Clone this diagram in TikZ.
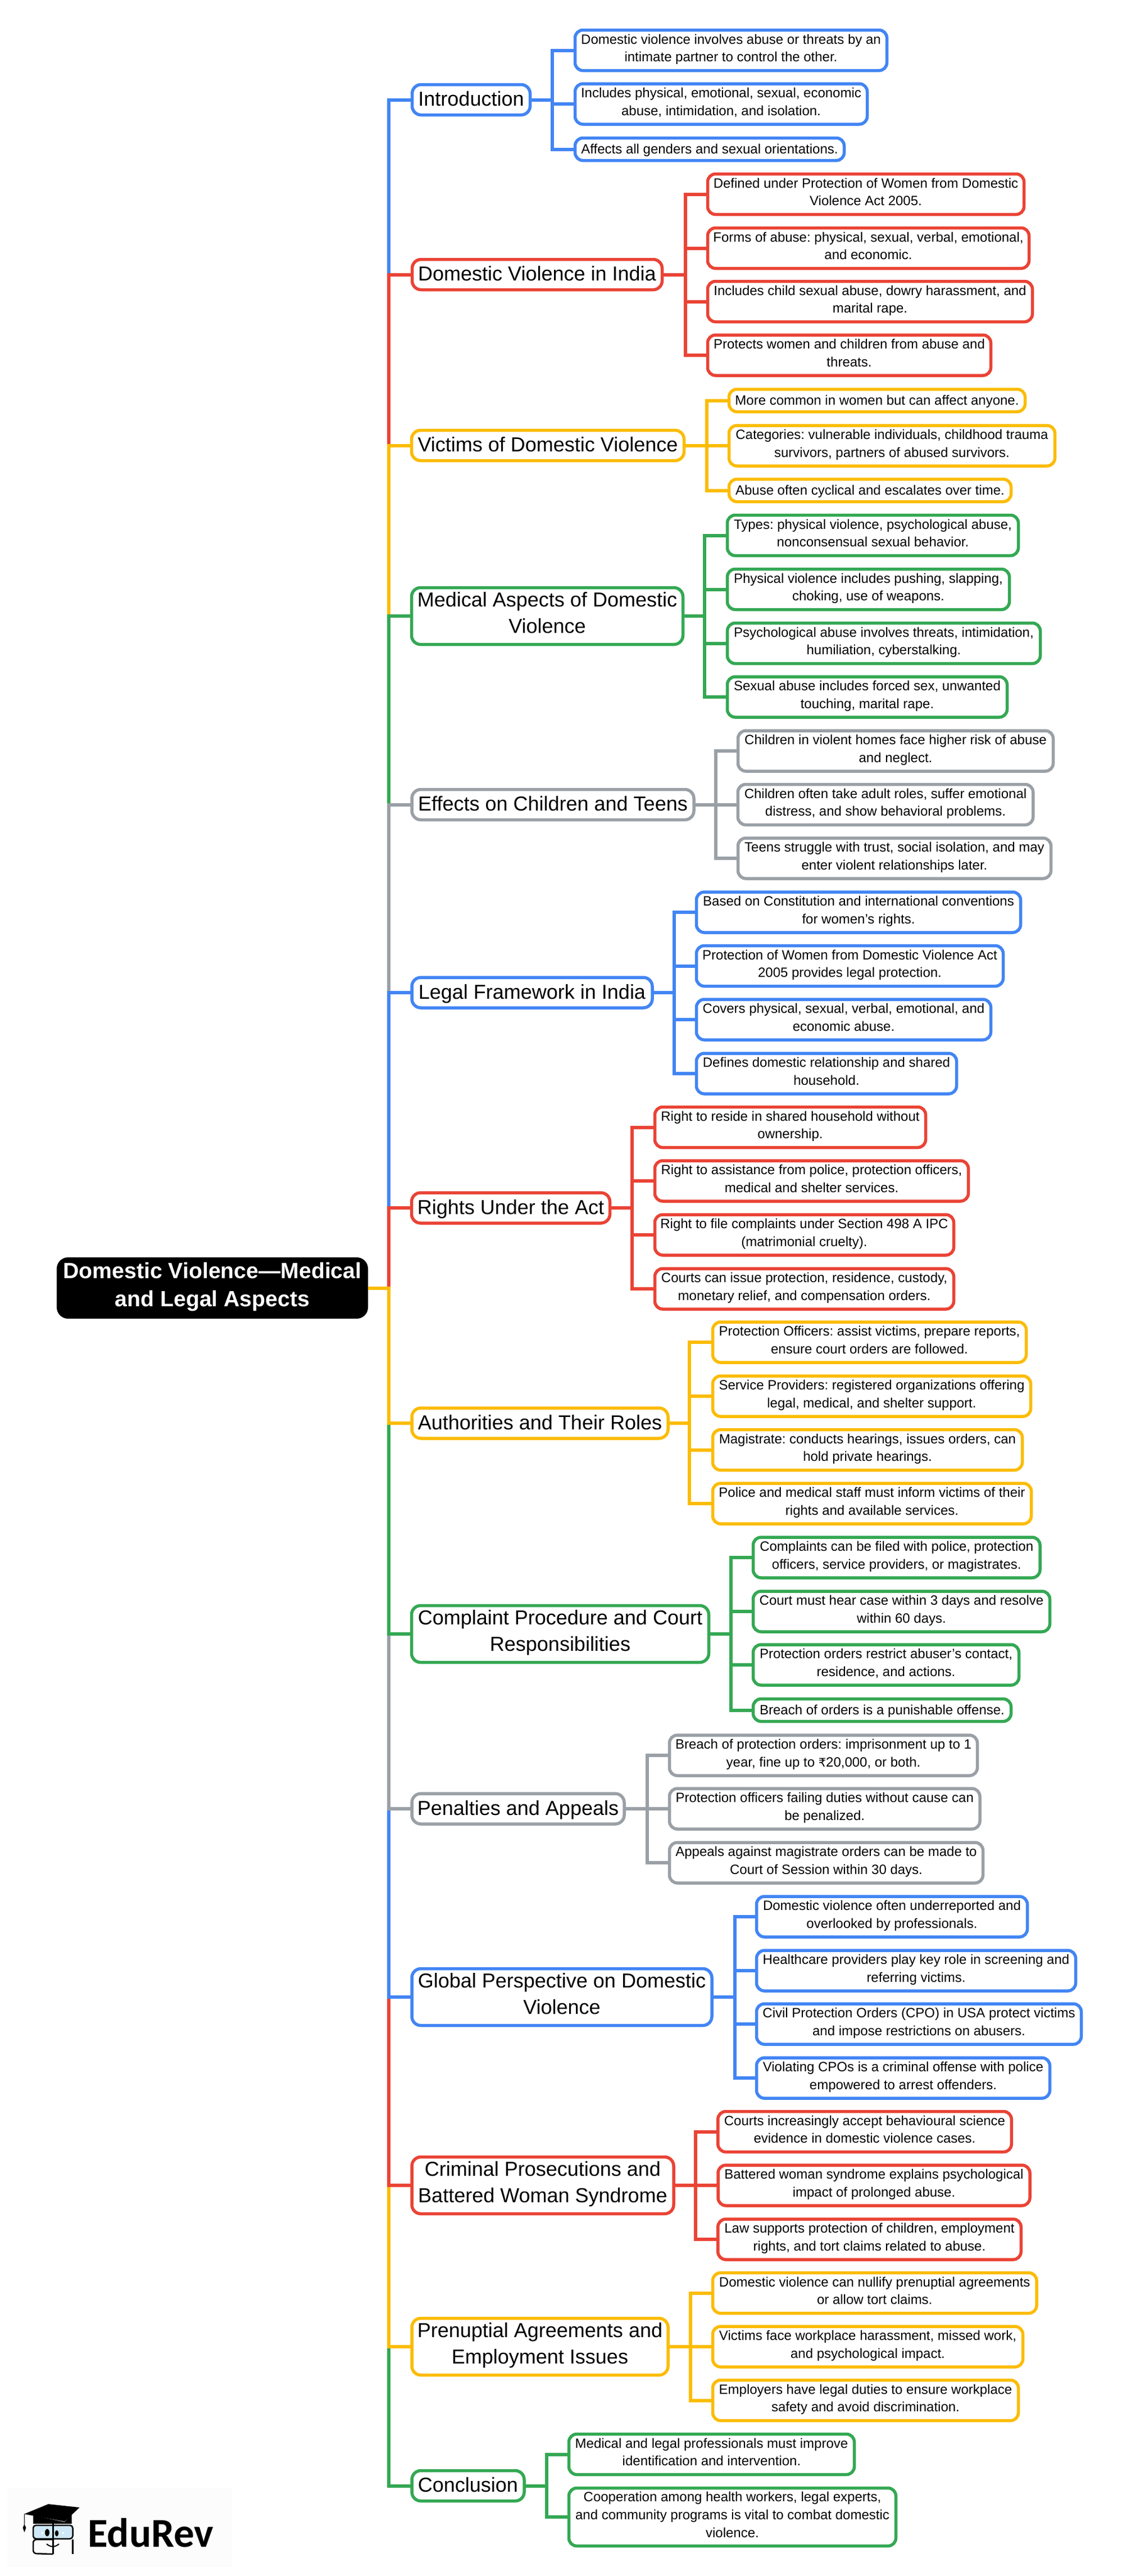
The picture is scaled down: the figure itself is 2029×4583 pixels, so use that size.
\documentclass[tikz,border=0pt]{standalone}
\usepackage{fontspec}
\setmainfont{Liberation Sans}
\newfontfamily\logofont{Carlito}
\newfontfamily\rupeefont{DejaVu Sans}
\frenchspacing
\newcommand\tstrut{\rule[-.26\baselineskip]{0pt}{\baselineskip}}
\definecolor{cblue}{HTML}{4285F4}
\definecolor{cred}{HTML}{EA4335}
\definecolor{cyellow}{HTML}{FBBC04}
\definecolor{cgreen}{HTML}{34A853}
\definecolor{cgray}{HTML}{9AA0A6}
\definecolor{logobg}{HTML}{FCFCFC}
\definecolor{logoglass}{HTML}{CFE8F7}
\tikzset{
  rootbox/.style={fill=black,text=white,rounded corners=20,inner sep=0,outer sep=0,align=center,
    font=\fontsize{39.2}{50}\selectfont\bfseries,minimum width=554,minimum height=109,
    execute at begin node=\tstrut,execute at end node=\tstrut},
  topicbox/.style={draw=#1,fill=white,line width=5.5,rounded corners=16,inner sep=0,outer sep=0,align=center,
    font=\fontsize{36}{47}\selectfont,
    execute at begin node=\tstrut,execute at end node=\tstrut},
  leafbox/.style={draw=#1,fill=white,line width=5.5,rounded corners=14,inner sep=0,outer sep=0,align=center,
    font=\fontsize{24}{31.7}\selectfont,
    execute at begin node=\tstrut,execute at end node=\tstrut},
  link/.style={draw=#1,line width=6,line join=miter},
}
\begin{document}
\begin{tikzpicture}[x=1pt,y=-1pt]
\useasboundingbox (0,0) rectangle (2029,4583);
% root
\node[rootbox] (root) at (378,2291.5) {Domestic Violence---Medical\\and Legal Aspects};
\coordinate (tr) at (692,2291.5);
% topics
\node[topicbox=cblue,minimum width=210,minimum height=54] (t1) at (838.5,177.5) {Introduction};
\node[topicbox=cred,minimum width=445,minimum height=54] (t2) at (956,488.5) {Domestic Violence in India};
\node[topicbox=cyellow,minimum width=485,minimum height=54] (t3) at (975,792.5) {Victims of Domestic Violence};
\node[topicbox=cgreen,minimum width=483,minimum height=101] (t4) at (974,1096) {Medical Aspects of Domestic\\Violence};
\node[topicbox=cgray,minimum width=502,minimum height=54] (t5) at (984,1431.5) {Effects on Children and Teens};
\node[topicbox=cblue,minimum width=428,minimum height=54] (t6) at (947,1766) {Legal Framework in India};
\node[topicbox=cred,minimum width=353,minimum height=54] (t7) at (909,2149) {Rights Under the Act};
\node[topicbox=cyellow,minimum width=456,minimum height=54] (t8) at (961,2532) {Authorities and Their Roles};
\node[topicbox=cgreen,minimum width=529,minimum height=101] (t9) at (997,2907) {Complaint Procedure and Court\\Responsibilities};
\node[topicbox=cgray,minimum width=378,minimum height=54] (t10) at (922,3218) {Penalties and Appeals};
\node[topicbox=cblue,minimum width=534,minimum height=101] (t11) at (1000,3553) {Global Perspective on Domestic\\Violence};
\node[topicbox=cred,minimum width=466,minimum height=101] (t12) at (966,3888) {Criminal Prosecutions and\\Battered Woman Syndrome};
\node[topicbox=cyellow,minimum width=456,minimum height=101] (t13) at (961,4175) {Prenuptial Agreements and\\Employment Issues};
\node[topicbox=cgreen,minimum width=200,minimum height=54] (t14) at (833,4422.5) {Conclusion};
% leaves
\node[leafbox=cblue,minimum width=555,minimum height=72] (l1a) at (1301,89.5) {Domestic violence involves abuse or threats by an\\intimate partner to control the other.};
\node[leafbox=cblue,minimum width=520,minimum height=72] (l1b) at (1283.5,185) {Includes physical, emotional, sexual, economic\\abuse, intimidation, and isolation.};
\node[leafbox=cblue,minimum width=479,minimum height=40] (l1c) at (1263,265.5) {Affects all genders and sexual orientations.};
\node[leafbox=cred,minimum width=563,minimum height=72] (l2a) at (1541,345.5) {Defined under Protection of Women from Domestic\\Violence Act 2005.};
\node[leafbox=cred,minimum width=572,minimum height=72] (l2b) at (1545.5,441.5) {Forms of abuse: physical, sexual, verbal, emotional,\\and economic.};
\node[leafbox=cred,minimum width=578,minimum height=72] (l2c) at (1548.5,536.5) {Includes child sexual abuse, dowry harassment, and\\marital rape.};
\node[leafbox=cred,minimum width=504,minimum height=72] (l2d) at (1511.5,632) {Protects women and children from abuse and\\threats.};
\node[leafbox=cyellow,minimum width=527,minimum height=40] (l3a) at (1561,712.5) {More common in women but can affect anyone.};
\node[leafbox=cyellow,minimum width=580,minimum height=72] (l3b) at (1587.5,793) {Categories: vulnerable individuals, childhood trauma\\survivors, partners of abused survivors.};
\node[leafbox=cyellow,minimum width=502,minimum height=40] (l3c) at (1548.5,872.5) {Abuse often cyclical and escalates over time.};
\node[leafbox=cgreen,minimum width=518,minimum height=72] (l4a) at (1553.5,952.5) {Types: physical violence, psychological abuse,\\nonconsensual sexual behavior.};
\node[leafbox=cgreen,minimum width=502,minimum height=72] (l4b) at (1545.5,1048.5) {Physical violence includes pushing, slapping,\\choking, use of weapons.};
\node[leafbox=cgreen,minimum width=557,minimum height=72] (l4c) at (1573,1144.5) {Psychological abuse involves threats, intimidation,\\humiliation, cyberstalking.};
\node[leafbox=cgreen,minimum width=498,minimum height=72] (l4d) at (1543.5,1240) {Sexual abuse includes forced sex, unwanted\\touching, marital rape.};
\node[leafbox=cgray,minimum width=561,minimum height=72] (l5a) at (1594,1336) {Children in violent homes face higher risk of abuse\\and neglect.};
\node[leafbox=cgray,minimum width=525.5,minimum height=72] (l5b) at (1576,1431.5) {Children often take adult roles, suffer emotional\\distress, and show behavioral problems.};
\node[leafbox=cgray,minimum width=557,minimum height=72] (l5c) at (1592,1527) {Teens struggle with trust, social isolation, and may\\enter violent relationships later.};
\node[leafbox=cblue,minimum width=577,minimum height=72] (l6a) at (1528,1623) {Based on Constitution and international conventions\\for women's rights.};
\node[leafbox=cblue,minimum width=546,minimum height=72] (l6b) at (1512.5,1718.5) {Protection of Women from Domestic Violence Act\\2005 provides legal protection.};
\node[leafbox=cblue,minimum width=524,minimum height=72] (l6c) at (1501.5,1814) {Covers physical, sexual, verbal, emotional, and\\economic abuse.};
\node[leafbox=cblue,minimum width=463,minimum height=72] (l6d) at (1471,1910) {Defines domestic relationship and shared\\household.};
\node[leafbox=cred,minimum width=482,minimum height=72] (l7a) at (1406.5,2005.5) {Right to reside in shared household without\\ownership.};
\node[leafbox=cred,minimum width=558,minimum height=72] (l7b) at (1444.5,2101) {Right to assistance from police, protection officers,\\medical and shelter services.};
\node[leafbox=cred,minimum width=532,minimum height=72] (l7c) at (1431.5,2197) {Right to file complaints under Section 498 A IPC\\(matrimonial cruelty).};
\node[leafbox=cred,minimum width=532,minimum height=72] (l7d) at (1431.5,2293) {Courts can issue protection, residence, custody,\\monetary relief, and compensation orders.};
\node[leafbox=cyellow,minimum width=558,minimum height=72] (l8a) at (1547.5,2388) {Protection Officers: assist victims, prepare reports,\\ensure court orders are followed.};
\node[leafbox=cyellow,minimum width=566,minimum height=72] (l8b) at (1551.5,2484) {Service Providers: registered organizations offering\\legal, medical, and shelter support.};
\node[leafbox=cyellow,minimum width=551,minimum height=72] (l8c) at (1544,2579.5) {Magistrate: conducts hearings, issues orders, can\\hold private hearings.};
\node[leafbox=cyellow,minimum width=567,minimum height=72] (l8d) at (1552,2675) {Police and medical staff must inform victims of their\\rights and available services.};
\node[leafbox=cgreen,minimum width=510.5,minimum height=72] (l9a) at (1595.75,2771) {Complaints can be filed with police, protection\\officers, service providers, or magistrates.};
\node[leafbox=cgreen,minimum width=528,minimum height=72] (l9b) at (1604.5,2867) {Court must hear case within 3 days and resolve\\within 60 days.};
\node[leafbox=cgreen,minimum width=473,minimum height=72] (l9c) at (1577,2962) {Protection orders restrict abuser's contact,\\residence, and actions.};
\node[leafbox=cgreen,minimum width=459,minimum height=40] (l9d) at (1570,3042.5) {Breach of orders is a punishable offense.};
\node[leafbox=cgray,minimum width=548,minimum height=72] (l10a) at (1465.5,3123) {Breach of protection orders: imprisonment up to 1\\year, fine up to {\rupeefont\fontsize{21}{31.7}\selectfont ₹}20,000, or both.};
\node[leafbox=cgray,minimum width=552.5,minimum height=72] (l10b) at (1467.75,3218) {Protection officers failing duties without cause can\\be penalized.};
\node[leafbox=cgray,minimum width=558,minimum height=72] (l10c) at (1470.5,3314) {Appeals against magistrate orders can be made to\\Court of Session within 30 days.};
\node[leafbox=cblue,minimum width=482,minimum height=72] (l11a) at (1587.5,3410) {Domestic violence often underreported and\\overlooked by professionals.};
\node[leafbox=cblue,minimum width=568,minimum height=72] (l11b) at (1630.5,3506) {Healthcare providers play key role in screening and\\referring victims.};
\node[leafbox=cblue,minimum width=578,minimum height=72] (l11c) at (1635.5,3601) {Civil Protection Orders (CPO) in USA protect victims\\and impose restrictions on abusers.};
\node[leafbox=cblue,minimum width=522,minimum height=72] (l11d) at (1607.5,3697) {Violating CPOs is a criminal offense with police\\empowered to arrest offenders.};
\node[leafbox=cred,minimum width=522.5,minimum height=72] (l12a) at (1539,3792.5) {Courts increasingly accept behavioural science\\evidence in domestic violence cases.};
\node[leafbox=cred,minimum width=555,minimum height=72] (l12b) at (1555.5,3888) {Battered woman syndrome explains psychological\\impact of prolonged abuse.};
\node[leafbox=cred,minimum width=539.5,minimum height=72] (l12c) at (1547.5,3984) {Law supports protection of children, employment\\rights, and tort claims related to abuse.};
\node[leafbox=cyellow,minimum width=576.5,minimum height=72] (l13a) at (1556.75,4079.5) {Domestic violence can nullify prenuptial agreements\\or allow tort claims.};
\node[leafbox=cyellow,minimum width=552,minimum height=72] (l13b) at (1544.5,4175) {Victims face workplace harassment, missed work,\\and psychological impact.};
\node[leafbox=cyellow,minimum width=544,minimum height=72] (l13c) at (1540.5,4270.5) {Employers have legal duties to ensure workplace\\safety and avoid discrimination.};
\node[leafbox=cgreen,minimum width=508,minimum height=72] (l14a) at (1266.5,4366.5) {Medical and legal professionals must improve\\identification and intervention.};
\node[leafbox=cgreen,minimum width=582,minimum height=103] (l14b) at (1303.5,4478) {Cooperation among health workers, legal experts,\\and community programs is vital to combat domestic\\violence.};
% trunk links: outer ones first, so each nearer one lies on top
\foreach \t/\c in {t1/cblue,t2/cred,t3/cyellow,t4/cgreen,t5/cgray,t6/cblue,t7/cred,
                   t14/cgreen,t13/cyellow,t12/cred,t11/cblue,t10/cgray,t9/cgreen,t8/cyellow}
  \draw[link=\c] (root.east) -- (tr) |- (\t.west);
% branch junctions
\coordinate (j1) at (983,177.5);
\coordinate (j2) at (1220,488.5);
\coordinate (j3) at (1258,792.5);
\coordinate (j4) at (1254,1096);
\coordinate (j5) at (1274,1431.5);
\coordinate (j6) at (1200,1766);
\coordinate (j7) at (1124.5,2149);
\coordinate (j8) at (1227,2532);
\coordinate (j9) at (1301,2907);
\coordinate (j10) at (1152,3218);
\coordinate (j11) at (1307.5,3553);
\coordinate (j12) at (1238,3888);
\coordinate (j13) at (1229,4175);
\coordinate (j14) at (973,4422.5);
% branch links
\foreach \n/\c/\ls in {1/cblue/{a,b,c},2/cred/{a,b,c,d},3/cyellow/{a,b,c},4/cgreen/{a,b,c,d},5/cgray/{a,b,c},
    6/cblue/{a,b,c,d},7/cred/{a,b,c,d},8/cyellow/{a,b,c,d},9/cgreen/{a,b,c,d},10/cgray/{a,b,c},
    11/cblue/{a,b,c,d},12/cred/{a,b,c},13/cyellow/{a,b,c},14/cgreen/{a,b}}
  \foreach \l in \ls
    \draw[link=\c] (t\n.east) -- (j\n) |- (l\n\l.west);
% logo
\fill[logobg] (13,4427) rectangle (413,4567);
\fill[black] (86,4455) -- (141.6,4461) -- (115,4486) -- (43,4472.7) -- cycle;
\fill[black] (59,4475) -- (59,4490) -- (127.5,4490) -- (127.5,4473) -- (115,4487) -- cycle;
\draw[black,line width=1.5] (43.4,4472.7) -- (43.4,4493);
\fill[black] (43.4,4491) -- (46.5,4497) -- (43.4,4505) -- (40.5,4497) -- cycle;
\filldraw[fill=logoglass,draw=black,line width=2.5,rounded corners=5] (59,4492.7) rectangle (129.5,4516.7);
\draw[black,line width=2.5,rounded corners=6] (94.4,4518) -- (59,4518) -- (59,4543) -- (94.4,4544);
\draw[black,line width=2.5,rounded corners=6] (129.5,4518) -- (129.5,4544);
\draw[black,line width=2.5] (94.4,4490) -- (94.4,4544);
\fill[black] (84,4505.7) ellipse (4 and 6.5);
\fill[black] (101,4507) ellipse (3.2 and 5.5);
\fill[white] (74,4505) rectangle (77,4508);
\fill[white] (111,4505) rectangle (114,4508);
\draw[black,line width=2] (83,4526) .. controls (90,4532) and (98,4532) .. (105,4526);
\node[anchor=base west,inner sep=0,font=\fontsize{73}{73}\logofont\bfseries] (logotext) at (156,4531) {EduRev};
\end{tikzpicture}
\end{document}
